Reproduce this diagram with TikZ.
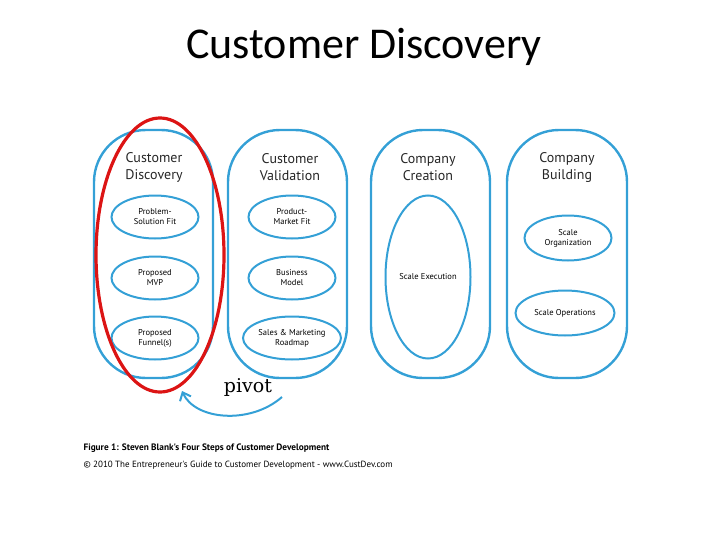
\documentclass[tikz,border=0pt]{standalone}
\usetikzlibrary{shapes.geometric,arrows.meta}
\usepackage{fontspec}
\setmainfont{Carlito}
\newfontfamily\cond{PT Sans}
\newfontfamily\serifp{DejaVu Serif}
\definecolor{cblue}{RGB}{52,160,214}
\definecolor{cred}{RGB}{220,20,20}
\begin{document}
\begin{tikzpicture}[x=1pt,y=1pt,
  col/.style={draw=cblue,line width=2.4pt,rounded corners=52pt},
  sub/.style={draw=cblue,line width=2pt,ellipse,inner sep=0pt,align=center,font=\cond\fontsize{8.5}{10}\selectfont},
  hd/.style={align=center,font=\cond\fontsize{14}{17}\selectfont,text=black!85}]
\useasboundingbox (0,0) rectangle (728,-546);
\node[font=\fontsize{44}{48}\selectfont] (title) at (364,-47) {Customer Discovery};
% columns
\draw[col] (94,-130) rectangle (213,-378);
\draw[col] (228,-130) rectangle (347,-378);
\draw[col] (371,-130) rectangle (490,-378);
\draw[col] (507,-130) rectangle (627,-378);
\node[hd] (h1) at (154,-167) {Customer\\Discovery};
\node[hd] (h2) at (290,-167) {Customer\\Validation};
\node[hd] (h3) at (428,-167) {Company\\Creation};
\node[hd] (h4) at (567,-167) {Company\\Building};
\node[sub,minimum width=87pt,minimum height=43pt] (a1) at (155,-217) {Problem-\\Solution Fit};
\node[sub,minimum width=87pt,minimum height=43pt] (a2) at (155,-278) {Proposed\\MVP};
\node[sub,minimum width=87pt,minimum height=43pt] (a3) at (155,-338) {Proposed\\Funnel(s)};
\node[sub,minimum width=87pt,minimum height=43pt] (b1) at (292,-217) {Product-\\Market Fit};
\node[sub,minimum width=87pt,minimum height=43pt] (b2) at (292,-278) {Business\\Model};
\node[sub,minimum width=98pt,minimum height=43pt] (b3) at (292,-338) {Sales \& Marketing\\Roadmap};
\node[sub,minimum width=85pt,minimum height=163pt] (c1) at (428,-277) {Scale Execution};
\node[sub,minimum width=87pt,minimum height=45pt] (d1) at (568,-238) {Scale\\Organization};
\node[sub,minimum width=99pt,minimum height=45pt] (d2) at (565,-313) {Scale Operations};
% red highlight
\draw[cred,line width=3.2pt] (160,-255) ellipse [x radius=64, y radius=137];
% pivot
\node[font=\serifp\fontsize{19}{22}\selectfont] (pv) at (248,-387) {pivot};
\coordinate (ps) at (282,-397);
\coordinate (pe) at (182,-391);
\draw[cblue,line width=2pt,-{Straight Barb[length=7pt,width=12pt]}] (ps) .. controls (250,-425) and (195,-420) .. (pe);
% caption
\node[anchor=west,font=\cond\bfseries\fontsize{9.3}{11}\selectfont] (cap1) at (80,-448) {Figure 1: Steven Blank's Four Steps of Customer Development};
\node[anchor=west,font=\cond\fontsize{9}{11}\selectfont] (cap2) at (80,-465) {© 2010 The Entrepreneur's Guide to Customer Development - www.CustDev.com};
\end{tikzpicture}
\end{document}
